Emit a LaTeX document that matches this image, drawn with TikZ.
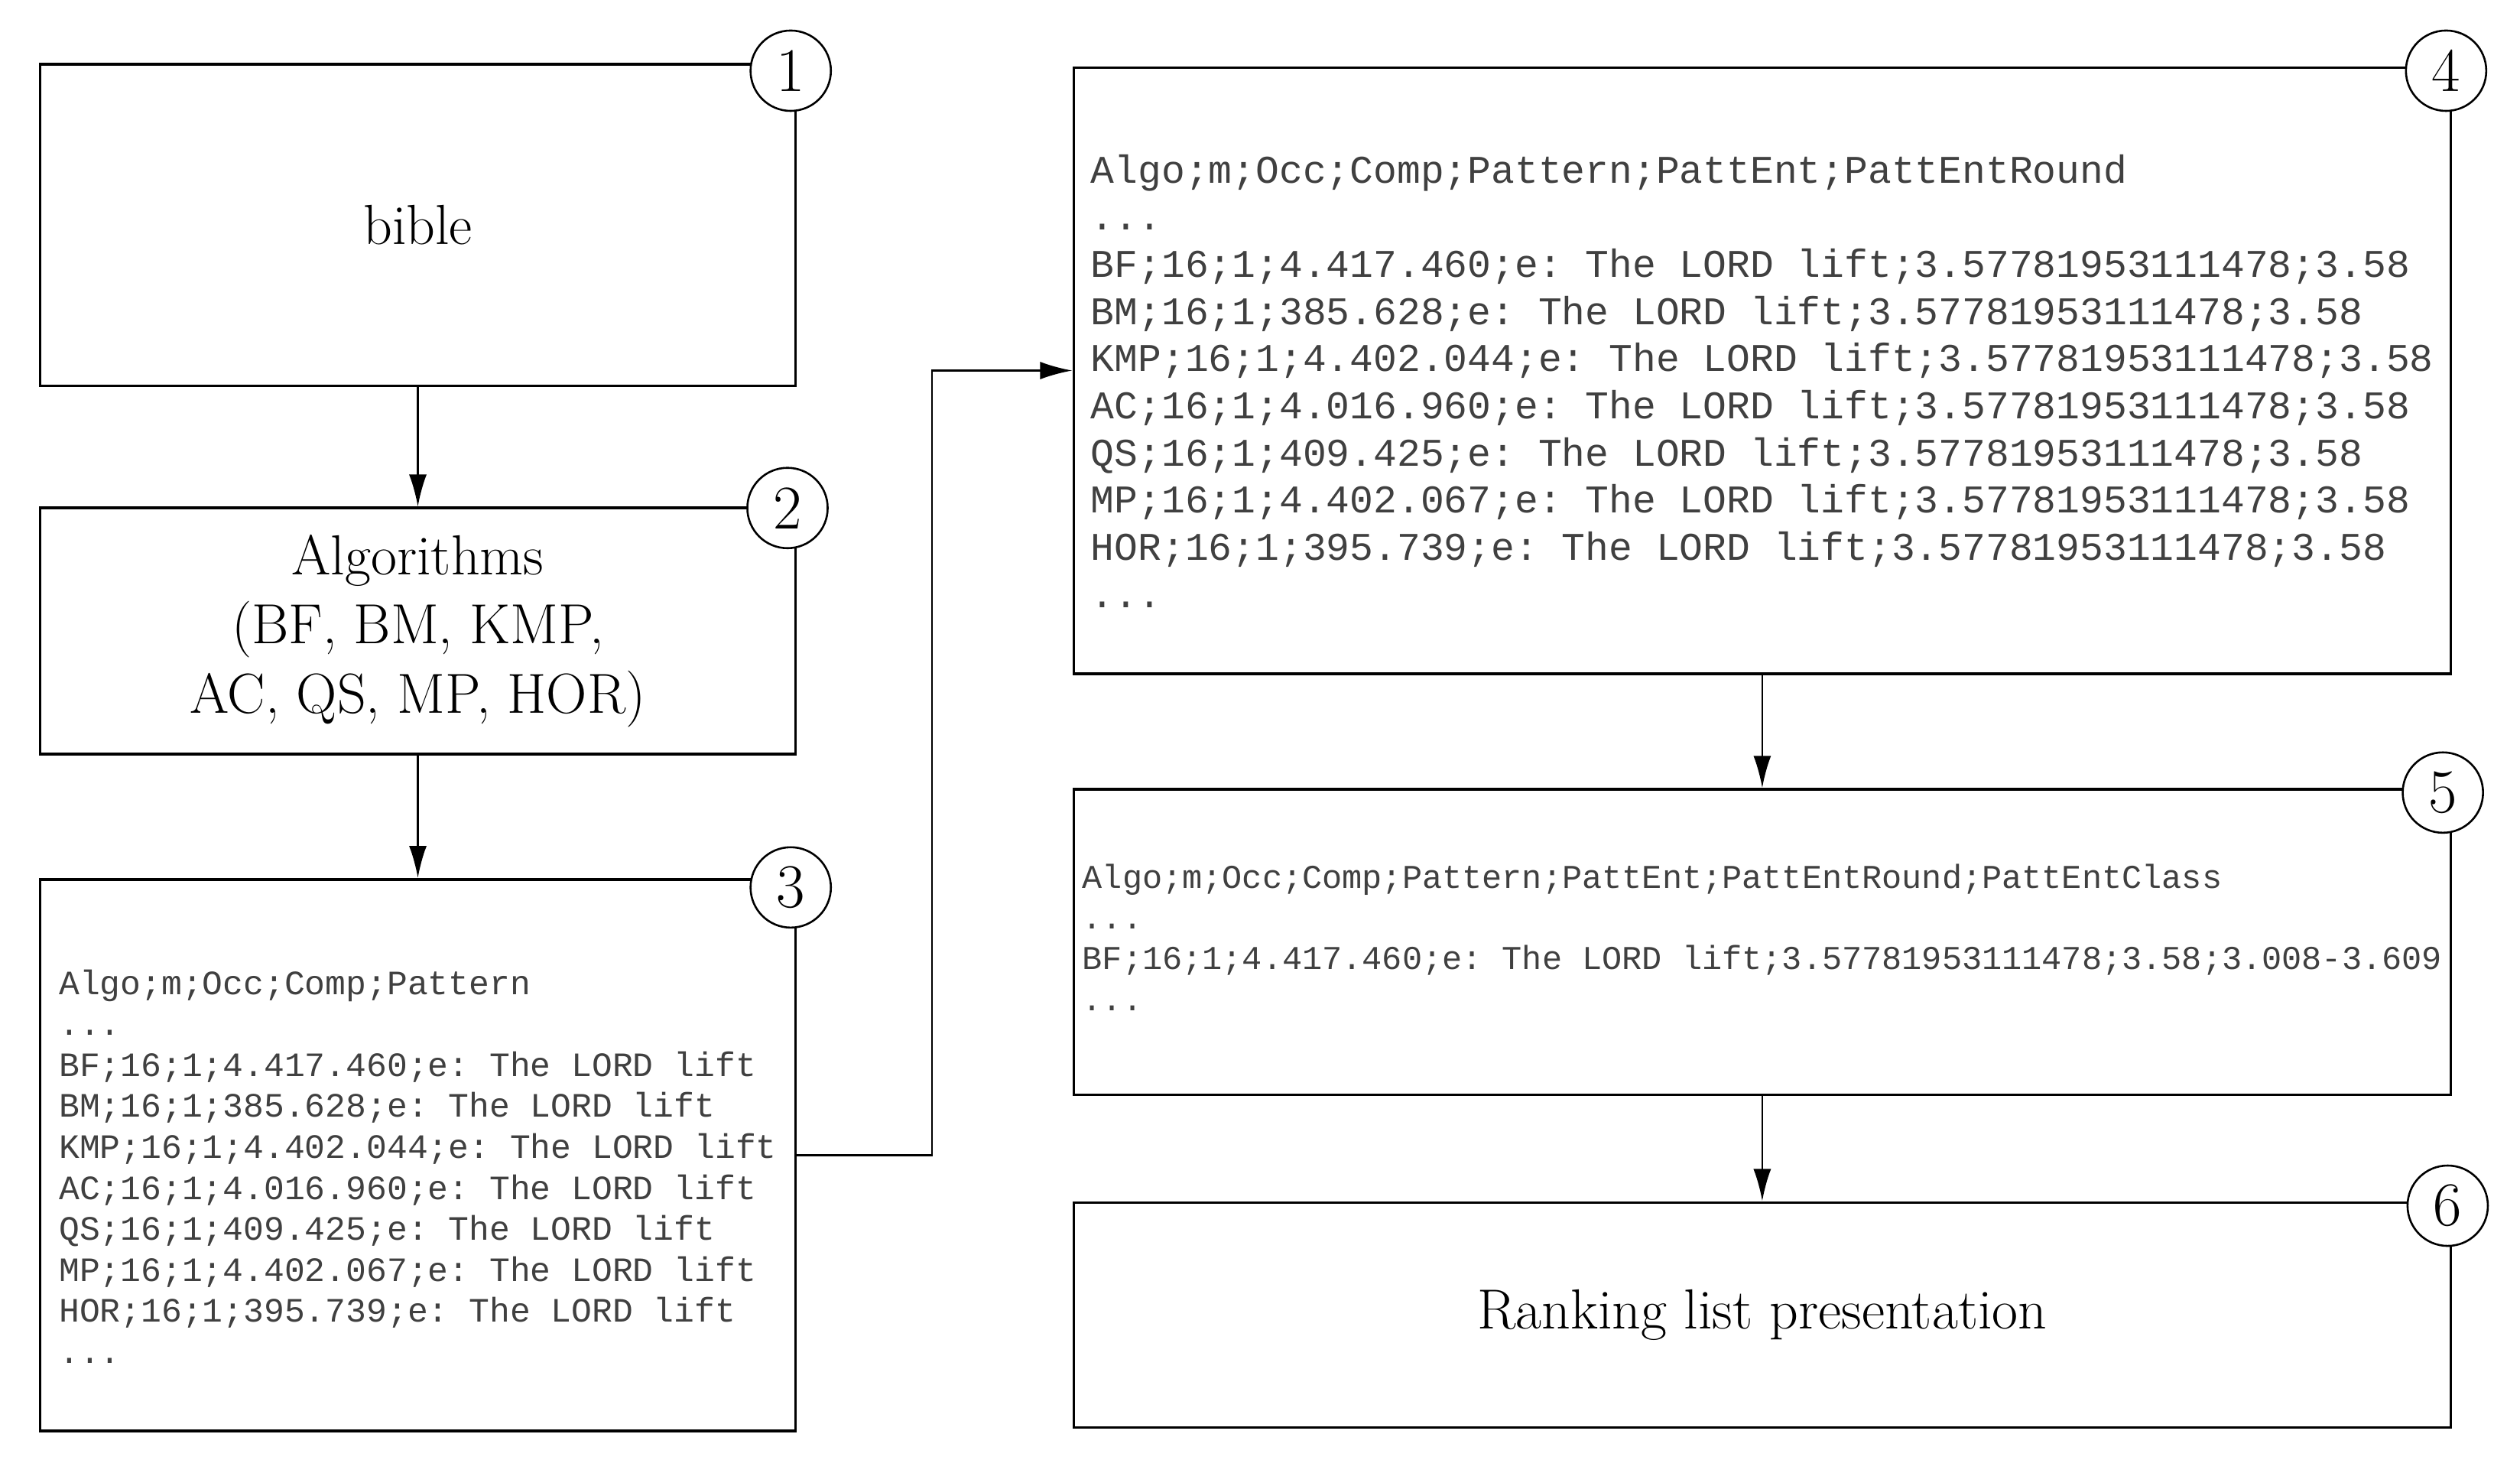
\documentclass[tikz,border=0pt]{standalone}
\usepackage{fontspec}
\setmonofont{Liberation Mono}
\usetikzlibrary{arrows.meta}

\begin{document}
\begin{tikzpicture}[x=0.02cm, y=-0.02cm,
    box/.style={rectangle, draw, line width=1pt, inner sep=0pt, align=center},
    code/.style={align=left, text=black!75, inner sep=0pt},
    num/.style={circle, draw, fill=white, line width=0.7pt, minimum size=1cm, inner sep=0pt, font=\fontsize{22}{22}\selectfont},
    arr/.style={-{Latex[length=0.4cm, width=0.22cm]}, line width=0.7pt}]
    \useasboundingbox (0,0) rectangle (1568,908);

    % left column
    \node[box, minimum width=9.4cm, minimum height=4cm, font=\fontsize{20}{24.5}\selectfont] (b1) at (260,140) {bible};
    \node[box, minimum width=9.4cm, minimum height=3.06cm, font=\fontsize{20}{24.5}\selectfont] (b2) at (260,392.5)
        {Algorithms\\(BF, BM, KMP,\\AC, QS, MP, HOR)};
    \node[box, minimum width=9.4cm, minimum height=6.86cm] (b3) at (260,718.5) {};
    \node[code, font=\ttfamily\fontsize{12.1}{14.5}\selectfont] (t3) at ([yshift=-0.14cm]b3.center)
        {Algo;m;Occ;Comp;Pattern\\
         ...\\
         BF;16;1;4.417.460;e: The LORD lift\\
         BM;16;1;385.628;e: The LORD lift\\
         KMP;16;1;4.402.044;e: The LORD lift\\
         AC;16;1;4.016.960;e: The LORD lift\\
         QS;16;1;409.425;e: The LORD lift\\
         MP;16;1;4.402.067;e: The LORD lift\\
         HOR;16;1;395.739;e: The LORD lift\\
         ...};

    % right column
    \node[box, minimum width=17.14cm, minimum height=7.54cm] (b4) at (1096.5,230.5) {};
    \node[code, font=\ttfamily\fontsize{13.9}{16.7}\selectfont] (t4) at ([yshift=-0.13cm]b4.center)
        {Algo;m;Occ;Comp;Pattern;PattEnt;PattEntRound\\
         ...\\
         BF;16;1;4.417.460;e: The LORD lift;3.57781953111478;3.58\\
         BM;16;1;385.628;e: The LORD lift;3.57781953111478;3.58\\
         KMP;16;1;4.402.044;e: The LORD lift;3.57781953111478;3.58\\
         AC;16;1;4.016.960;e: The LORD lift;3.57781953111478;3.58\\
         QS;16;1;409.425;e: The LORD lift;3.57781953111478;3.58\\
         MP;16;1;4.402.067;e: The LORD lift;3.57781953111478;3.58\\
         HOR;16;1;395.739;e: The LORD lift;3.57781953111478;3.58\\
         ...};
    \node[box, minimum width=17.14cm, minimum height=3.8cm] (b5) at (1096.5,586) {};
    \node[code, font=\ttfamily\fontsize{11.8}{14.4}\selectfont] (t5) at ([yshift=0.06cm]b5.center)
        {Algo;m;Occ;Comp;Pattern;PattEnt;PattEntRound;PattEntClass\\
         ...\\
         BF;16;1;4.417.460;e: The LORD lift;3.57781953111478;3.58;3.008-3.609\\
         ...};
    \node[box, minimum width=17.14cm, minimum height=2.8cm, font=\fontsize{20}{24.5}\selectfont] (b6) at (1096.5,818)
        {Ranking list presentation};

    % step numbers
    \node[num] (n1) at (492,44) {1};
    \node[num] (n2) at (490,316) {2};
    \node[num] (n3) at (492,552) {3};
    \node[num] (n4) at (1522,44) {4};
    \node[num] (n5) at (1520,493) {5};
    \node[num] (n6) at (1523,750) {6};

    % connectors
    \coordinate (bend) at (580,718.5);
    \draw[arr] (b1) -- (b2);
    \draw[arr] (b2) -- (b3);
    \draw[arr] (b3.east) -- (bend) |- (b4.west);
    \draw[arr] (b4) -- (b5);
    \draw[arr] (b5) -- (b6);
\end{tikzpicture}
\end{document}
